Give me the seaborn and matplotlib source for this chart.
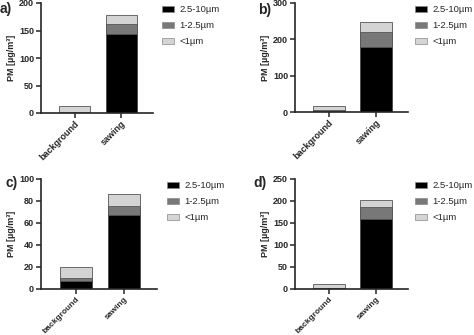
import matplotlib
matplotlib.use("Agg")
import matplotlib.pyplot as plt
import seaborn as sns
import numpy as np
from matplotlib.patches import Patch

categories = ["background", "sawing"]
series_names = ["2.5-10µm", "1-2.5µm", "<1µm"]
panel_labels = ["a)", "b)", "c)", "d)"]

# values per panel: coarse (2.5-10), mid (1-2.5), fine (<1)
a_coarse = [0.8, 143]
a_mid = [0.7, 19]
a_fine = [10.5, 16]
b_coarse = [4, 178]
b_mid = [2, 43]
b_fine = [11, 27]
c_coarse = [7.7, 67.5]
c_mid = [2.3, 8]
c_fine = [9.8, 10.5]
d_coarse = [1.5, 158]
d_mid = [0.5, 28]
d_fine = [10, 17]

yticks_a = [0, 50, 100, 150, 200]
yticks_b = [0, 100, 200, 300]
yticks_c = [0, 20, 40, 60, 80, 100]
yticks_d = [0, 50, 100, 150, 200, 250]

colors = ["#000000", "#787878", "#d4d4d4"]

sns.set_style("ticks")
plt.rcParams['font.family'] = ['Liberation Sans', 'DejaVu Sans']

fig = plt.figure(figsize=(4.74, 3.35), dpi=100)
W, H = 474, 335

def px_axes(left, top, right, bottom):
    return fig.add_axes([left / W, 1 - bottom / H, (right - left) / W, (bottom - top) / H])

panels = [
    (px_axes(41, 3, 153, 113), a_coarse, a_mid, a_fine, yticks_a, (0, 9), (162, 10), 6.5),
    (px_axes(295, 3, 408, 112), b_coarse, b_mid, b_fine, yticks_b, (258, 10), (415, 10), 6.5),
    (px_axes(41, 179, 157, 289), c_coarse, c_mid, c_fine, yticks_c, (5, 183), (167, 186), 6.0),
    (px_axes(295, 179, 408, 289), d_coarse, d_mid, d_fine, yticks_d, (253, 183), (415, 186), 6.0),
]

for i, (ax, co, mi, fi, yt, lab_pos, leg_pos, xfs) in enumerate(panels):
    co = np.array(co); mi = np.array(mi); fi = np.array(fi)
    layers = [co + mi + fi, co + mi, co]
    layer_colors = [colors[2], colors[1], colors[0]]
    for vals, col in zip(layers, layer_colors):
        sns.barplot(x=categories, y=vals, color=col, ax=ax, width=0.67,
                    edgecolor="#555555", linewidth=0.6, saturation=1)
    ax.set_xlim(-0.72, 1.68)
    ax.set_ylim(0, yt[-1])
    ax.set_yticks(yt)
    ax.set_yticklabels([str(v) for v in yt], fontsize=6.5, fontweight="bold")
    ax.set_xticks([0, 1])
    ax.set_xticklabels(categories, rotation=45, ha="right", rotation_mode="anchor",
                       fontsize=xfs, fontweight="bold")
    ax.set_ylabel("PM [µg/m³]", fontsize=6.5, fontweight="bold", labelpad=2)
    ax.set_xlabel("")
    for s in ["top", "right"]:
        ax.spines[s].set_visible(False)
    for s in ["left", "bottom"]:
        ax.spines[s].set_linewidth(1.2)
    ax.tick_params(axis="both", length=3.5, width=1.1, pad=1.5)
    ax.tick_params(axis="x", pad=1.0)
    fig.text(lab_pos[0] / W, 1 - lab_pos[1] / H, panel_labels[i], fontsize=10,
             fontweight="bold", va="center", ha="left")
    handles = [Patch(facecolor=c, edgecolor="#888888", linewidth=0.5) for c in colors]
    leg = fig.legend(handles, series_names, loc="upper left",
                     bbox_to_anchor=(leg_pos[0] / W, 1 - (leg_pos[1] - 5) / H),
                     frameon=False, fontsize=6.8, handlelength=1.25, handleheight=0.6,
                     handletextpad=0.6, labelspacing=0.75, borderaxespad=0, borderpad=0)

fig.savefig("out.png", dpi=100)
